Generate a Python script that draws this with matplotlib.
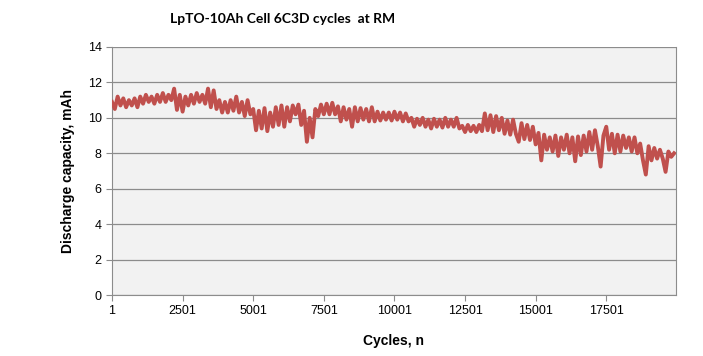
import numpy as np
import matplotlib
matplotlib.use("Agg")
import matplotlib.pyplot as plt

# Discharge capacity (mAh), one value every 100 cycles
capacity = [
    10.9, 10.5, 11.2, 10.7, 11.1, 10.6, 11.0, 10.7, 11.1, 10.6,
    11.2, 10.8, 11.3, 10.9, 11.2, 10.8, 11.3, 10.9, 11.4, 10.9,
    11.3, 11.0, 11.65, 10.45, 11.3, 10.35, 11.2, 10.7, 11.3, 10.8,
    11.4, 10.9, 11.3, 10.8, 11.65, 10.6, 11.55, 10.5, 11.0, 10.3,
    10.9, 10.3, 11.0, 10.4, 11.2, 10.3, 10.9, 10.1, 11.0, 10.2,
    10.5, 9.3, 10.4, 9.4, 10.55, 9.25, 10.3, 9.5, 10.6, 9.6,
    10.7, 9.5, 10.6, 9.8, 10.7, 10.2, 10.75, 9.6, 10.4, 8.65,
    10.0, 8.9, 10.5, 10.1, 10.75, 10.2, 10.8, 10.2, 10.85, 10.2,
    10.65, 9.8, 10.6, 9.9, 10.5, 9.5, 10.6, 9.8, 10.55, 9.9,
    10.5, 9.8, 10.6, 9.8, 10.35, 9.85, 10.3, 9.9, 10.3, 9.85,
    10.35, 9.9, 10.3, 9.8, 10.25, 9.8, 10.0, 9.5, 9.95, 9.6,
    10.0, 9.5, 9.9, 9.4, 9.95, 9.5, 9.9, 9.45, 10.0, 9.5,
    9.9, 9.5, 10.0, 9.4, 9.55, 9.2, 9.6, 9.25, 9.55, 9.2,
    9.6, 9.25, 10.25, 9.3, 10.15, 9.2, 10.1, 9.3, 10.0, 9.1,
    9.85, 9.05, 9.9, 9.1, 8.65, 9.7, 8.8, 9.6, 8.75, 9.5,
    8.5, 9.15, 7.6, 9.05, 8.2, 8.9, 8.1, 9.0, 7.85, 8.9,
    8.2, 9.05, 8.0, 8.9, 7.55, 8.95, 7.9, 9.0, 8.1, 9.2,
    8.2, 9.3, 8.4, 7.25, 9.0, 9.5, 8.2, 9.1, 8.0, 9.05,
    8.1, 9.0, 8.3, 8.9, 8.1, 8.9, 8.0, 8.55, 7.6, 6.8,
    8.4, 7.6, 8.3, 7.7, 8.2, 7.7, 6.95, 8.1, 7.8, 8.0,
]
cycles = np.arange(len(capacity)) * 100 + 1

x_ticks = [1, 2501, 5001, 7501, 10001, 12501, 15001, 17501]
y_ticks = [0, 2, 4, 6, 8, 10, 12, 14]

fig = plt.figure(figsize=(7.03, 3.56), dpi=100)
ax = fig.add_axes([0.1593, 0.1713, 0.8023, 0.6967])
ax.set_facecolor("#F2F2F2")

ax.plot(cycles, capacity, color="#C0504D", linewidth=2.8, zorder=3)

ax.set_xlim(1, 19970)
ax.set_ylim(0, 14)
ax.set_xticks(x_ticks)
ax.set_xticklabels([str(t) for t in x_ticks], fontfamily="Liberation Sans", fontsize=9)
ax.set_yticks(y_ticks)
ax.set_yticklabels([str(t) for t in y_ticks], fontfamily="Liberation Sans", fontsize=9)
ax.grid(axis="y", color="#8C8C8C", linewidth=0.9)
ax.set_axisbelow(True)

for side in ["left", "bottom", "right"]:
    ax.spines[side].set_color("#8C8C8C")
ax.spines["top"].set_visible(False)
ax.tick_params(axis="both", colors="#8C8C8C", labelcolor="black", length=4)

ax.set_xlabel("Cycles, n", fontfamily="Liberation Sans", fontweight="bold",
              fontsize=10, labelpad=12)
ax.set_ylabel("Discharge capacity, mAh", fontfamily="Liberation Sans",
              fontweight="bold", fontsize=10, labelpad=9)

fig.text(0.402, 0.947, "LpTO-10Ah Cell 6C3D cycles  at RM", ha="center", va="center",
         fontfamily="Lato", fontweight="bold", fontsize=10)

fig.savefig("out.png", dpi=100)
